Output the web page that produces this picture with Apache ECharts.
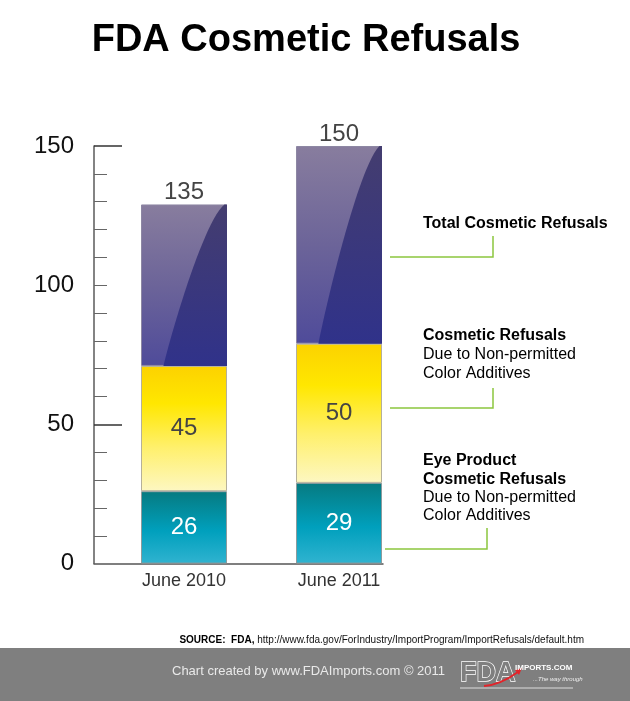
<!DOCTYPE html>
<html>
<head>
<meta charset="utf-8">
<title>FDA Cosmetic Refusals</title>
<script src="https://cdn.jsdelivr.net/npm/echarts@6/dist/echarts.min.js"></script>
<style>
  html, body { margin: 0; padding: 0; background: #fff; }
  #chart { width: 630px; height: 701px; }
</style>
</head>
<body>
<div id="chart"></div>
<script>
// data
const categories = ['June 2010', 'June 2011']
const eyeProductRefusals = [26, 29]
const colorAdditiveRefusals = [45, 50]
// remaining part of the total as the bars are drawn (the 2010 bar stops short of its 135 label)
const otherRefusals = [58, 71]
const totalLabels = [135, 150]
const yTickLabels = [0, 50, 100, 150]
const yMinorTicks = [10, 20, 30, 40, 60, 70, 80, 90, 100, 110, 120, 130, 140]
const yLongTicks = [50, 150]

const FONT = '"Liberation Sans", Arial, Helvetica, sans-serif'
const BAR_W = 86
const GREEN = '#8cc63e'

const chart = echarts.init(document.getElementById('chart'), null, { renderer: 'canvas' })

function vGrad(stops) {
  return new echarts.graphic.LinearGradient(0, 0, 0, 1, stops.map(([offset, color]) => ({ offset, color })))
}

// dark curved sheen over the purple segment
function renderSheen(params, api) {
  const i = api.value(0)
  const top = api.coord([i, api.value(2)])
  const base = api.coord([i, api.value(1)])
  const xL = top[0] - BAR_W / 2
  const yT = top[1]
  const h = base[1] - top[1]
  const p = [[0.97, 0], [0.74, 0.1], [0.38, 0.74], [0.26, 1]]
  const pts = []
  for (let k = 0; k <= 24; k++) {
    const s = k / 24
    const a = (1 - s) ** 3, b = 3 * s * (1 - s) ** 2, c = 3 * s * s * (1 - s), d = s ** 3
    const fx = a * p[0][0] + b * p[1][0] + c * p[2][0] + d * p[3][0]
    const fy = a * p[0][1] + b * p[1][1] + c * p[2][1] + d * p[3][1]
    pts.push([xL + fx * BAR_W, yT + fy * h])
  }
  pts.push([xL + BAR_W, yT + h], [xL + BAR_W, yT])
  return {
    type: 'polygon',
    shape: { points: pts },
    style: { fill: vGrad([[0, '#443d6f'], [1, '#30328a']]) },
  }
}

function text(x, y, str, font, fill, align) {
  return {
    type: 'text',
    style: { x, y, text: str, font, fill, textAlign: align || 'left', textVerticalAlign: 'middle' },
  }
}

function polyline(points) {
  return { type: 'polyline', shape: { points }, style: { stroke: GREEN, lineWidth: 1.5, fill: null } }
}

const bold16 = `bold 16px ${FONT}`
const reg16 = `16px ${FONT}`

const graphics = [
  text(306, 41, 'FDA Cosmetic Refusals', `bold 38px ${FONT}`, '#000', 'center'),

  text(423, 224, 'Total Cosmetic Refusals', bold16, '#000'),
  polyline([[390, 257], [493, 257], [493, 236]]),

  text(423, 336, 'Cosmetic Refusals', bold16, '#000'),
  text(423, 355, 'Due to Non-permitted', reg16, '#000'),
  text(423, 373.5, 'Color Additives', reg16, '#000'),
  polyline([[493, 388], [493, 408], [390, 408]]),

  text(423, 461, 'Eye Product', bold16, '#000'),
  text(423, 479.5, 'Cosmetic Refusals', bold16, '#000'),
  text(423, 498, 'Due to Non-permitted', reg16, '#000'),
  text(423, 516, 'Color Additives', reg16, '#000'),
  polyline([[487, 528], [487, 549], [385, 549]]),

  {
    type: 'text',
    style: {
      x: 584, y: 640, textAlign: 'right', textVerticalAlign: 'middle',
      text: '{b|SOURCE:  FDA,} http://www.fda.gov/ForIndustry/ImportProgram/ImportRefusals/default.htm',
      font: `10px ${FONT}`, fill: '#111',
      rich: { b: { fontWeight: 'bold', fontSize: 10, fontFamily: FONT, fill: '#000' } },
    },
  },

  { type: 'rect', shape: { x: 0, y: 648, width: 630, height: 53 }, style: { fill: '#7f7f7f' } },
  text(172, 671.5, 'Chart created by www.FDAImports.com \u00a9 2011', `13px ${FONT}`, '#e9e9e9'),

  // logo
  {
    type: 'text',
    style: { x: 460, y: 674, text: 'FDA', font: `bold 27px ${FONT}`, fill: '#7f7f7f', stroke: '#fff', lineWidth: 1.3, textVerticalAlign: 'middle' },
  },
  {
    type: 'bezierCurve',
    shape: { x1: 484, y1: 686, cpx1: 500, cpy1: 685, x2: 518, y2: 672 },
    style: { stroke: '#e2242a', lineWidth: 2, fill: null },
  },
  { type: 'polygon', shape: { points: [[515, 670], [522, 668], [519, 675]] }, style: { fill: '#e2242a' } },
  text(515, 667.5, 'IMPORTS.COM', `bold 8px ${FONT}`, '#fff'),
  text(533, 679, '...The way through', `italic 6px ${FONT}`, '#eee'),
  { type: 'line', shape: { x1: 460, y1: 688, x2: 573, y2: 688 }, style: { stroke: '#ddd', lineWidth: 1 } },
]

const option = {
  animation: false,
  backgroundColor: '#fff',
  textStyle: { fontFamily: FONT },
  grid: [
    { left: 106.5, top: 146, width: 310, bottom: 137.4 },
    { left: 94, top: 146, width: 289, bottom: 137.4 },
  ],
  xAxis: [
    {
      gridIndex: 0,
      type: 'category',
      data: categories,
      axisLine: { show: false },
      axisTick: { show: false },
      axisLabel: { color: '#333', fontSize: 18, margin: 8, fontFamily: FONT },
    },
    {
      gridIndex: 1,
      type: 'value',
      min: 0,
      max: 1,
      axisLine: { show: true, lineStyle: { color: '#555', width: 1.5 } },
      axisTick: { show: false },
      axisLabel: { show: false },
      splitLine: { show: false },
    },
  ],
  yAxis: [
    { gridIndex: 0, type: 'value', min: 0, max: 150, show: false },
    {
      gridIndex: 1,
      type: 'value',
      position: 'left',
      min: 0,
      max: 150,
      interval: 50,
      axisLine: { show: true, lineStyle: { color: '#5a5a5a', width: 1.5 } },
      axisTick: { show: true, inside: true, length: 13, customValues: yMinorTicks, lineStyle: { color: '#666', width: 1 } },
      axisLabel: { customValues: yTickLabels, color: '#111', fontSize: 24, margin: 20, fontFamily: FONT },
      splitLine: { show: false },
    },
    {
      gridIndex: 1,
      type: 'value',
      position: 'left',
      offset: 0,
      min: 0,
      max: 150,
      interval: 50,
      axisLine: { show: false },
      axisTick: { show: true, inside: true, length: 28, customValues: yLongTicks, lineStyle: { color: '#333', width: 1.5 } },
      axisLabel: { show: false },
      splitLine: { show: false },
    },
  ],
  series: [
    {
      name: 'Eye Product Cosmetic Refusals',
      type: 'bar',
      stack: 'total',
      barWidth: BAR_W,
      data: eyeProductRefusals,
      itemStyle: {
        color: vGrad([[0, '#067a80'], [0.55, '#00a0bd'], [1, '#30b3d0']]),
        borderColor: '#8c9b9d',
        borderWidth: 1,
      },
      label: { show: true, position: 'inside', color: '#fff', fontSize: 24, fontFamily: FONT },
    },
    {
      name: 'Cosmetic Refusals Due to Non-permitted Color Additives',
      type: 'bar',
      stack: 'total',
      barWidth: BAR_W,
      data: colorAdditiveRefusals,
      itemStyle: {
        color: vGrad([[0, '#fcd200'], [0.3, '#ffe700'], [0.65, '#fff06c'], [1, '#fdf7c2']]),
        borderColor: '#b5b09a',
        borderWidth: 1,
      },
      label: { show: true, position: 'inside', color: '#444', fontSize: 24, fontFamily: FONT },
    },
    {
      name: 'Total Cosmetic Refusals',
      type: 'bar',
      stack: 'total',
      barWidth: BAR_W,
      data: otherRefusals,
      itemStyle: {
        color: vGrad([[0, '#887d9e'], [0.5, '#6c6499'], [1, '#4f4b9a']]),
        borderColor: '#8d87a3',
        borderWidth: 1,
      },
      label: {
        show: true,
        position: 'top',
        distance: 0,
        color: '#444',
        fontSize: 24,
        fontFamily: FONT,
        formatter: p => String(totalLabels[p.dataIndex]),
      },
    },
    {
      name: 'sheen',
      type: 'custom',
      z: 3,
      silent: true,
      renderItem: renderSheen,
      encode: { x: 0, y: [1, 2] },
      data: categories.map((c, i) => {
        const base = eyeProductRefusals[i] + colorAdditiveRefusals[i]
        return [i, base, base + otherRefusals[i]]
      }),
    },
  ],
  graphic: graphics,
}

chart.setOption(option)
</script>
</body>
</html>
